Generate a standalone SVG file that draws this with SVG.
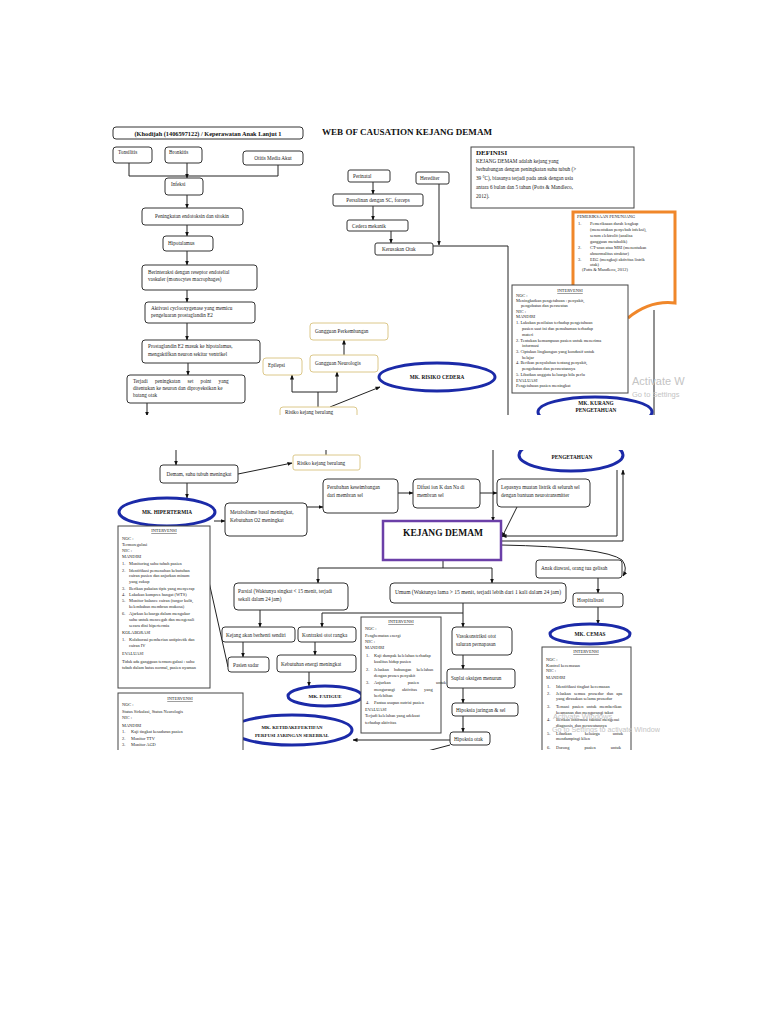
<svg xmlns="http://www.w3.org/2000/svg" width="768" height="1024" viewBox="0 0 768 1024">
<defs>
<style>
.t{font-family:"Liberation Serif",serif;font-size:5.2px;fill:#222}
.s{font-family:"Liberation Serif",serif;font-size:4.4px;fill:#222}
.bt{font-family:"Liberation Serif",serif;font-weight:bold;fill:#111}
.c{text-anchor:middle}
.b{fill:#fff;stroke:#333;stroke-width:1}
.y{fill:#fff;stroke:#dcc88a;stroke-width:1}
.r{fill:#fff;stroke:#444;stroke-width:1}
.e{fill:#fff;stroke:#1b2aa8;stroke-width:3}
.l{fill:none;stroke:#222;stroke-width:1}
.w{font-family:"Liberation Sans",sans-serif;fill:#c4c4c4}
</style>
<marker id="a" viewBox="0 0 10 10" refX="9" refY="5" markerWidth="5" markerHeight="5" orient="auto"><path d="M0,1 L10,5 L0,9z" fill="#111"/></marker>
<clipPath id="ct"><rect x="90" y="118" width="605" height="297"/></clipPath>
<clipPath id="cb"><rect x="100" y="450" width="560" height="300"/></clipPath>
</defs>
<rect width="768" height="1024" fill="#fff"/>

<!-- TOP PANEL -->
<g clip-path="url(#ct)">
<g id="connectors-top">
<path class="l" d="M129,163 V176 M278,165 V176 M129,176 H278"/>
<path class="l" d="M187,163 V178" marker-end="url(#a)"/>
<path class="l" d="M187,195 V208" marker-end="url(#a)"/>
<path class="l" d="M187,225 V236" marker-end="url(#a)"/>
<path class="l" d="M187,251 V265" marker-end="url(#a)"/>
<path class="l" d="M187,290 V302" marker-end="url(#a)"/>
<path class="l" d="M187,323 V340" marker-end="url(#a)"/>
<path class="l" d="M188,363 V375" marker-end="url(#a)"/>
<path class="l" d="M147,403 V416" marker-end="url(#a)"/>
<path class="l" d="M373,182 V194" marker-end="url(#a)"/>
<path class="l" d="M373,206 V220" marker-end="url(#a)"/>
<path class="l" d="M391,231 V243" marker-end="url(#a)"/>
<path class="l" d="M439,184 V245" marker-end="url(#a)"/>
<path class="l" d="M433,246 H508 V416"/>
<path class="l" d="M654,310 V416" stroke="#666"/>
<path class="l" d="M344,355 V340" marker-end="url(#a)"/>
<path class="l" d="M318,407 V392 M292,392 H337"/>
<path class="l" d="M292,392 V375" marker-end="url(#a)"/>
<path class="l" d="M337,392 V372" marker-end="url(#a)"/>
<path class="l" d="M330,407 L380,387" marker-end="url(#a)"/>
</g>

<g id="title"><rect class="b" x="113" y="127" width="190" height="12" rx="3"/><text class="bt c" x="208" y="135.5" font-size="6.3">(Khodijah (1406597122) / Keperawatan Anak Lanjut 1</text></g>
<text id="heading" class="bt c" x="407" y="135" font-size="9" textLength="170" lengthAdjust="spacingAndGlyphs">WEB OF CAUSATION KEJANG DEMAM</text>

<g id="tonsilitis"><rect class="b" x="113" y="147" width="39" height="16" rx="3"/><text class="t" x="118" y="154">Tonsilitis</text></g>
<g id="bronkitis"><rect class="b" x="165" y="147" width="37" height="16" rx="3"/><text class="t" x="169" y="154">Bronkitis</text></g>
<g id="otitis"><rect class="b" x="243" y="151" width="60" height="14" rx="3"/><text class="t c" x="273" y="159.5">Otitis Media Akut</text></g>
<g id="infeksi"><rect class="b" x="165" y="178" width="38" height="17" rx="3"/><text class="t" x="171" y="186">Infeksi</text></g>
<g id="endotoksin"><rect class="b" x="142" y="208" width="101" height="17" rx="3"/><text class="t c" x="192" y="218">Peningkatan endotoksin dan sitokin</text></g>
<g id="hipotalamus"><rect class="b" x="163" y="236" width="50" height="15" rx="3"/><text class="t" x="168" y="245">Hipotalamus</text></g>
<g id="berinteraksi"><rect class="b" x="142" y="265" width="115" height="25" rx="3"/><text class="t" x="148" y="274">Berinteraksi dengan reseptor  endotelial</text><text class="t" x="148" y="281">vaskuler (monocytes macrophages)</text></g>
<g id="aktivasi"><rect class="b" x="145" y="302" width="110" height="21" rx="3"/><text class="t" x="151" y="310">Aktivasi cyclooxygenase yang memicu</text><text class="t" x="151" y="317">pengeluaran prostaglandin E2</text></g>
<g id="prostaglandin"><rect class="b" x="142" y="340" width="118" height="23" rx="3"/><text class="t" x="148" y="348">Prostaglandin E2 masuk ke hipotalamus,</text><text class="t" x="148" y="356">mengaktifkan neuron sekitar ventrikel</text></g>
<g id="setpoint"><rect class="b" x="127" y="375" width="118" height="28" rx="3"/><text class="t" x="133" y="383" word-spacing="6">Terjadi peningkatan set point yang</text><text class="t" x="133" y="390">ditentukan ke neuron dan diproyeksikan ke</text><text class="t" x="133" y="397">batang otak</text></g>

<g id="perinatal"><rect class="b" x="348" y="170" width="42" height="12" rx="2"/><text class="t" x="353" y="178">Perinatal</text></g>
<g id="herediter"><rect class="b" x="416" y="172" width="33" height="12" rx="2"/><text class="t" x="420" y="180">Herediter</text></g>
<g id="persalinan"><rect class="b" x="333" y="194" width="90" height="12" rx="2"/><text class="t c" x="378" y="202">Persalinan dengan SC, forceps</text></g>
<g id="cedera-mekanik"><rect class="b" x="347" y="220" width="61" height="11" rx="2"/><text class="t" x="352" y="228">Cedera mekanik</text></g>
<g id="kerusakan-otak"><rect class="b" x="375" y="243" width="58" height="12" rx="2"/><text class="t" x="382" y="251">Kerusakan Otak</text></g>

<g id="definisi"><rect class="r" x="471" y="147" width="163" height="61" stroke-width="1.3"/>
<text class="bt" x="476" y="155" font-size="7">DEFINISI</text>
<text class="t" x="476" y="163" font-size="6.8">KEJANG DEMAM adalah kejang yang</text>
<text class="t" x="476" y="171" font-size="6.3">berhubungan dengan peningkatan suhu tubuh (&gt;</text>
<text class="t" x="476" y="180" font-size="6.3">39 °C), biasanya terjadi pada anak dengan usia</text>
<text class="t" x="476" y="189" font-size="6.3">antara 6 bulan dan 5 tahun (Potts &amp; Mandleco,</text>
<text class="t" x="476" y="198" font-size="6.3">2012).</text></g>

<g id="pemeriksaan"><path d="M573,292 V212 H675 V303 Q650,300 628,318" fill="#fff" stroke="#f0872a" stroke-width="3"/>
<text class="s" x="577" y="218" font-size="4">PEMERIKSAAN PENUNJANG</text>
<text class="s" x="578" y="225" font-size="4">1.</text><text class="s" x="590" y="225" font-size="4">Pemeriksaan darah lengkap</text>
<text class="s" x="590" y="231" font-size="4">(menentukan penyebab infeksi),</text>
<text class="s" x="590" y="237" font-size="4">serum elektrolit (analisa</text>
<text class="s" x="590" y="243" font-size="4">gangguan metabolik)</text>
<text class="s" x="578" y="249" font-size="4">2.</text><text class="s" x="590" y="249" font-size="4">CT-scan atau MRI (menentukan</text>
<text class="s" x="590" y="255" font-size="4">abnormalitas struktur)</text>
<text class="s" x="578" y="261" font-size="4">3.</text><text class="s" x="590" y="261" font-size="4">EEG (mengkaji aktivitas listrik</text>
<text class="s" x="590" y="266" font-size="4">otak)</text>
<text class="s" x="582" y="271" font-size="4">(Potts &amp; Mandleco, 2012)</text></g>

<g id="intervensi-pengetahuan"><rect class="r" x="512" y="285" width="116" height="108"/>
<text class="s c" x="570" y="292" text-decoration="underline">INTERVENSI</text>
<text class="s" x="516" y="297">NOC :</text>
<text class="s" x="516" y="302">Meningkatkan pengetahuan : penyakit,</text>
<text class="s" x="521" y="307">pengobatan dan perawatan</text>
<text class="s" x="516" y="313">NIC :</text>
<text class="s" x="516" y="318">MANDIRI</text>
<text class="s" x="516" y="324">1.  Lakukan penilaian terhadap pengetahuan</text>
<text class="s" x="522" y="330">pasien saat ini dan pemahaman terhadap</text>
<text class="s" x="522" y="336">materi</text>
<text class="s" x="516" y="342">2.  Tentukan kemampuan pasien untuk menerima</text>
<text class="s" x="522" y="347">informasi</text>
<text class="s" x="516" y="353">3.  Ciptakan lingkungan yang kondusif untuk</text>
<text class="s" x="522" y="359">belajar</text>
<text class="s" x="516" y="364">4.  Berikan penyuluhan tentang penyakit,</text>
<text class="s" x="522" y="370">pengobatan dan perawatannya</text>
<text class="s" x="516" y="376">5.  Libatkan anggota keluarga bila perlu</text>
<text class="s" x="516" y="382">EVALUASI</text>
<text class="s" x="516" y="387">Pengetahuan pasien meningkat</text></g>

<g id="mk-kurang-pengetahuan-top"><ellipse class="e" cx="595" cy="412" rx="57" ry="15"/>
<text class="bt c" x="596" y="405" font-size="5.3">MK. KURANG</text><text class="bt c" x="596" y="412" font-size="5.3">PENGETAHUAN</text></g>

<g id="gangguan-perkembangan"><rect class="y" x="310" y="323" width="78" height="17" rx="3"/><text class="t" x="315" y="333">Gangguan Perkembangan</text></g>
<g id="gangguan-neurologis"><rect class="y" x="310" y="355" width="68" height="17" rx="3"/><text class="t" x="315" y="365">Gangguan Neurologis</text></g>
<g id="epilepsi"><rect class="y" x="263" y="358" width="39" height="17" rx="3"/><text class="t" x="268" y="367">Epilepsi</text></g>
<g id="risiko-kejang-top"><rect class="y" x="280" y="407" width="77" height="14" rx="3"/><text class="t" x="285" y="414">Risiko kejang berulang</text></g>
<g id="mk-risiko-cedera"><ellipse class="e" cx="437" cy="377" rx="58" ry="14"/><text class="bt c" x="437" y="379" font-size="5.3">MK. RISIKO CEDERA</text></g>

<text class="w" x="632" y="385" font-size="11">Activate W</text>
<text class="w" x="632" y="397" font-size="7.5">Go to Settings</text>
</g>

<!-- BOTTOM PANEL -->
<g clip-path="url(#cb)">
<g id="connectors-bottom">
<path class="l" d="M176,450 V465" marker-end="url(#a)"/>
<path class="l" d="M326,450 V455"/>
<path class="l" d="M238,474 L292,463" marker-end="url(#a)"/>
<path class="l" d="M187,483 V498" marker-end="url(#a)"/>
<path class="l" d="M214,521 H225" marker-end="url(#a)"/>
<path class="l" d="M307,507 H323" marker-end="url(#a)"/>
<path class="l" d="M398,493 H413" marker-end="url(#a)"/>
<path class="l" d="M493,450 V521" marker-end="url(#a)"/>
<path class="l" d="M480,493 H497" marker-end="url(#a)"/>
<path class="l" d="M517,507 L502,537" marker-end="url(#a)"/>
<path class="l" d="M501,541 H623 V470" marker-end="url(#a)"/>
<path class="l" d="M617,470 V536 H502" marker-end="url(#a)"/>
<path class="l" d="M501,545 Q605,547 622,560 Q628,568 623,576" marker-end="url(#a)"/>
<path class="l" d="M598,578 V593" marker-end="url(#a)"/>
<path class="l" d="M598,607 V624" marker-end="url(#a)"/>
<path class="l" d="M443,560 V568 M318,568 H492"/>
<path class="l" d="M318,568 V583" marker-end="url(#a)"/>
<path class="l" d="M492,568 V583" marker-end="url(#a)"/>
<path class="l" d="M260,610 V627" marker-end="url(#a)"/>
<path class="l" d="M463,603 V627" marker-end="url(#a)"/>
<path class="l" d="M463,613 H322 V627" marker-end="url(#a)"/>
<path class="l" d="M243,642 V657" marker-end="url(#a)"/>
<path class="l" d="M315,642 V655" marker-end="url(#a)"/>
<path class="l" d="M309,672 V686" marker-end="url(#a)"/>
<path class="l" d="M228,667 L197,528" marker-end="url(#a)"/>
<path class="l" d="M463,655 V669" marker-end="url(#a)"/>
<path class="l" d="M463,688 V703" marker-end="url(#a)"/>
<path class="l" d="M463,716 V732" marker-end="url(#a)"/>
<path class="l" d="M450,740 H353" marker-end="url(#a)"/>
<path class="l" d="M450,745 L420,753"/>
</g>

<g id="mk-kurang-pengetahuan-bottom"><ellipse class="e" cx="571" cy="455" rx="52" ry="16"/><text class="bt c" x="572" y="459" font-size="5.3">PENGETAHUAN</text></g>
<g id="demam"><rect class="b" x="160" y="465" width="78" height="18" rx="3"/><text class="t c" x="199" y="476">Demam, suhu tubuh meningkat</text></g>
<g id="risiko-kejang"><rect class="y" x="293" y="455" width="67" height="15" rx="2"/><text class="t" x="297" y="465">Risiko kejang berulang</text></g>
<g id="mk-hipertermia"><ellipse class="e" cx="167" cy="512" rx="48" ry="14"/><text class="bt c" x="167" y="514" font-size="5.3">MK. HIPERTERMIA</text></g>
<g id="metabolisme"><rect class="b" x="225" y="503" width="82" height="33" rx="4"/><text class="t" x="230" y="514">Metabolisme basal meningkat,</text><text class="t" x="230" y="522">Kebutuhan O2 meningkat</text></g>
<g id="perubahan"><rect class="b" x="323" y="479" width="75" height="34" rx="4"/><text class="t" x="327" y="489">Perubahan keseimbangan</text><text class="t" x="327" y="497">dari membran sel</text></g>
<g id="difusi"><rect class="b" x="413" y="479" width="67" height="29" rx="4"/><text class="t" x="417" y="489">Difusi ion K dan Na di</text><text class="t" x="417" y="497">membran sel</text></g>
<g id="lepasnya"><rect class="b" x="497" y="479" width="93" height="28" rx="4"/><text class="t" x="501" y="489">Lepasnya muatan listrik di seluruh sel</text><text class="t" x="501" y="497">dengan bantuan neurotransmitter</text></g>
<g id="kejang-demam"><rect x="384" y="522" width="118" height="39" fill="#d9d2ea"/><rect x="383" y="521" width="118" height="39" fill="#fff" stroke="#6b3fa8" stroke-width="2.5"/><text class="bt c" x="443" y="536" font-size="9.5">KEJANG DEMAM</text></g>
<g id="anak-diawasi"><rect class="b" x="536" y="560" width="86" height="18" rx="3"/><text class="t" x="541" y="570">Anak diawasi, orang tua gelisah</text></g>
<g id="hospitalisasi"><rect class="b" x="573" y="593" width="50" height="14" rx="3"/><text class="t" x="577" y="602">Hospitalisasi</text></g>
<g id="mk-cemas"><ellipse class="e" cx="590" cy="634" rx="40" ry="10"/><text class="bt c" x="590" y="636" font-size="5.3">MK. CEMAS</text></g>
<g id="intervensi-cemas"><rect class="r" x="542" y="647" width="89" height="115"/>
<text class="s c" x="586" y="653" text-decoration="underline">INTERVENSI</text>
<text class="s" x="546" y="661">NOC :</text>
<text class="s" x="546" y="667">Kontrol kecemasan</text>
<text class="s" x="546" y="672">NIC :</text>
<text class="s" x="546" y="679">MANDIRI</text>
<text class="s" x="547" y="688">1.</text><text class="s" x="556" y="688">Identifikasi tingkat kecemasan</text>
<text class="s" x="547" y="695">2.</text><text class="s" x="556" y="695" word-spacing="2">Jelaskan semua prosedur dan apa</text>
<text class="s" x="556" y="700">yang dirasakan selama prosedur</text>
<text class="s" x="547" y="708">3.</text><text class="s" x="556" y="708" word-spacing="2">Temani pasien untuk memberikan</text>
<text class="s" x="556" y="714">keamanan dan mengurangi takut</text>
<text class="s" x="547" y="721">4.</text><text class="s" x="556" y="721">Berikan informasi faktual mengenai</text>
<text class="s" x="556" y="727">diagnosis, dan perawatannya</text>
<text class="s" x="547" y="735">5.</text><text class="s" x="556" y="735" word-spacing="12">Libatkan keluarga untuk</text>
<text class="s" x="556" y="740">mendampingi klien</text>
<text class="s" x="547" y="749">6.</text><text class="s" x="556" y="749" word-spacing="14">Dorong pasien untuk</text></g>
<text class="w" x="553" y="719" font-size="7.5">Activate Windows</text>
<text class="w" x="552" y="732" font-size="7.2">Go to Settings to activate Windows.</text>

<g id="parsial"><rect class="b" x="234" y="583" width="114" height="27" rx="4"/><text class="t" x="238" y="593">Parsial (Waktunya singkat &lt; 15 menit, terjadi</text><text class="t" x="238" y="601">sekali dalam 24 jam)</text></g>
<g id="umum"><rect class="b" x="390" y="583" width="176" height="20" rx="4"/><text class="t" x="395" y="594" textLength="166" lengthAdjust="spacingAndGlyphs">Umum (Waktunya lama &gt; 15 menit, terjadi lebih dari 1 kali dalam 24 jam)</text></g>
<g id="berhenti"><rect class="b" x="222" y="627" width="73" height="15" rx="3"/><text class="t" x="226" y="637">Kejang akan berhenti sendiri</text></g>
<g id="kontraksi"><rect class="b" x="298" y="627" width="58" height="15" rx="3"/><text class="t" x="302" y="637">Kontraksi otot rangka</text></g>
<g id="pasien-sadar"><rect class="b" x="228" y="657" width="41" height="15" rx="3"/><text class="t" x="233" y="667">Pasien sadar</text></g>
<g id="kebutuhan-energi"><rect class="b" x="277" y="655" width="79" height="17" rx="3"/><text class="t" x="281" y="666">Kebutuhan energi meningkat</text></g>
<g id="mk-fatigue"><ellipse class="e" cx="325" cy="696" rx="37" ry="10"/><text class="bt c" x="325" y="698" font-size="5">MK. FATIGUE</text></g>
<g id="intervensi-fatigue"><rect class="r" x="361" y="617" width="80" height="116"/>
<text class="s c" x="401" y="623" text-decoration="underline">INTERVENSI</text>
<text class="s" x="365" y="630">NOC :</text>
<text class="s" x="365" y="637">Penghematan energi</text>
<text class="s" x="365" y="643">NIC :</text>
<text class="s" x="365" y="649">MANDIRI</text>
<text class="s" x="366" y="657">1.</text><text class="s" x="374" y="657">Kaji dampak kelelahan terhadap</text>
<text class="s" x="374" y="663">kualitas hidup pasien</text>
<text class="s" x="366" y="671">2.</text><text class="s" x="374" y="671" word-spacing="4">Jelaskan hubungan kelelahan</text>
<text class="s" x="374" y="677">dengan proses penyakit</text>
<text class="s" x="366" y="684">3.</text><text class="s" x="374" y="684" word-spacing="16">Anjurkan pasien untuk</text>
<text class="s" x="374" y="691" word-spacing="6">mengurangi aktivitas yang</text>
<text class="s" x="374" y="697">berlebihan</text>
<text class="s" x="366" y="704">4.</text><text class="s" x="374" y="704">Pantau asupan nutrisi pasien</text>
<text class="s" x="365" y="711">EVALUASI</text>
<text class="s" x="365" y="717">Terjadi kelelahan yang adekuat</text>
<text class="s" x="365" y="724">terhadap aktivitas</text></g>
<g id="vasokonstriksi"><rect class="b" x="452" y="627" width="60" height="28" rx="4"/><text class="t" x="456" y="638">Vasokonstriksi otot</text><text class="t" x="456" y="646">saluran pernapasan</text></g>
<g id="suplai-oksigen"><rect class="b" x="447" y="669" width="68" height="19" rx="3"/><text class="t" x="451" y="680">Suplai oksigen menurun</text></g>
<g id="hipoksia-jaringan"><rect class="b" x="452" y="703" width="66" height="13" rx="3"/><text class="t" x="456" y="711.5">Hipoksia jaringan &amp; sel</text></g>
<g id="hipoksia-otak"><rect class="b" x="450" y="732" width="40" height="13" rx="3"/><text class="t" x="454" y="741">Hipoksia otak</text></g>
<g id="mk-perfusi"><ellipse class="e" cx="292" cy="730" rx="60" ry="15"/><text class="bt c" x="292" y="729" font-size="4.8">MK. KETIDAKEFEKTIFAN</text><text class="bt c" x="292" y="737" font-size="4.8">PERFUSI JARINGAN SEREBRAL</text></g>

<g id="intervensi-hipertermia"><rect class="r" x="118" y="526" width="92" height="162"/>
<text class="s c" x="164" y="532" text-decoration="underline">INTERVENSI</text>
<text class="s" x="122" y="540">NOC :</text>
<text class="s" x="122" y="546">Termoregulasi</text>
<text class="s" x="122" y="552">NIC :</text>
<text class="s" x="122" y="558">MANDIRI</text>
<text class="s" x="122" y="565">1.</text><text class="s" x="129" y="565">Monitoring suhu tubuh pasien</text>
<text class="s" x="122" y="572">2.</text><text class="s" x="129" y="572">Identifikasi pemenuhan kebutuhan</text>
<text class="s" x="129" y="577">cairan pasien dan anjurkan minum</text>
<text class="s" x="129" y="583">yang cukup</text>
<text class="s" x="122" y="590">3.</text><text class="s" x="129" y="590">Berikan pakaian tipis yang menyerap</text>
<text class="s" x="122" y="596">4.</text><text class="s" x="129" y="596">Lakukan kompres hangat (WTS)</text>
<text class="s" x="122" y="602">5.</text><text class="s" x="129" y="602">Monitor balance cairan (turgor kulit,</text>
<text class="s" x="129" y="608">kelembaban membran mukosa)</text>
<text class="s" x="122" y="615">6.</text><text class="s" x="129" y="615">Ajarkan keluarga dalam mengukur</text>
<text class="s" x="129" y="621">suhu untuk mencegah dan mengenali</text>
<text class="s" x="129" y="627">secara dini hipertermia</text>
<text class="s" x="122" y="634">KOLABORASI</text>
<text class="s" x="122" y="641">1.</text><text class="s" x="129" y="641">Kolaborasi pemberian antipiretik dan</text>
<text class="s" x="129" y="647">cairan IV</text>
<text class="s" x="122" y="655">EVALUASI</text>
<text class="s" x="122" y="663">Tidak ada gangguan termoregulasi : suhu</text>
<text class="s" x="122" y="669">tubuh dalam batas normal, pasien  nyaman</text></g>

<g id="intervensi-perfusi"><rect class="r" x="118" y="693" width="125" height="70"/>
<text class="s c" x="180" y="700" text-decoration="underline">INTERVENSI</text>
<text class="s" x="122" y="706">NOC :</text>
<text class="s" x="122" y="713">Status Sirkulasi, Status Neurologis</text>
<text class="s" x="122" y="719">NIC :</text>
<text class="s" x="122" y="727">MANDIRI</text>
<text class="s" x="122" y="733">1.</text><text class="s" x="131" y="733">Kaji tingkat kesadaran pasien</text>
<text class="s" x="122" y="740">2.</text><text class="s" x="131" y="740">Monitor TTV</text>
<text class="s" x="122" y="746">3.</text><text class="s" x="131" y="746">Monitor AGD</text></g>
</g>
</svg>
